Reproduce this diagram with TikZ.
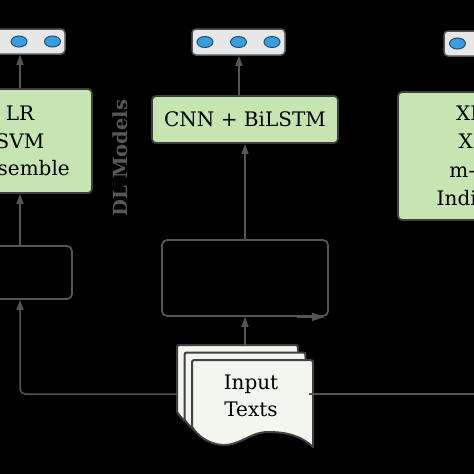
\documentclass[tikz,border=0pt]{standalone}
\usepackage{fontspec}
\setmainfont{DejaVu Serif}
\usetikzlibrary{arrows.meta,shapes.geometric}
\definecolor{greenfill}{HTML}{C6E5B3}
\definecolor{boxborder}{HTML}{3F3F3F}
\definecolor{linegray}{HTML}{555555}
\definecolor{outfill}{HTML}{E7E7E7}
\definecolor{dotblue}{HTML}{3B9DDD}
\definecolor{dotborder}{HTML}{1E4F74}
\definecolor{docfill}{HTML}{F2F6EE}
\definecolor{docborder}{HTML}{404040}
\definecolor{labelgray}{HTML}{575757}
\begin{document}
\begin{tikzpicture}[x=1pt,y=-1pt,
  model/.style={draw=boxborder, line width=1.8pt, fill=greenfill, rounded corners=4pt,
    align=center, inner sep=0pt, font=\fontsize{20}{27.5}\selectfont},
  outbox/.style={draw=linegray, line width=1.5pt, fill=outfill, rounded corners=4pt, inner sep=0pt},
  hiddenbox/.style={draw=linegray, line width=1.8pt, rounded corners=5pt, inner sep=0pt},
  dot/.style={ellipse, draw=dotborder, line width=1pt, fill=dotblue, minimum width=16pt, minimum height=11pt, inner sep=0pt},
  arr/.style={draw=linegray, line width=1.5pt, -{Triangle[length=10pt,width=7pt]}},
  conn/.style={draw=linegray, line width=1.5pt},
  txt/.style={align=center, inner sep=0pt, font=\fontsize{20}{27}\selectfont},
  sheet/.style={draw=docborder, line width=2pt, fill=docfill, line join=round}
]
\useasboundingbox (0,0) rectangle (474,474);
\fill[black] (0,0) rectangle (474,474);
\clip (0,0) rectangle (474,474);

% output boxes
\node[outbox, minimum width=92pt, minimum height=25pt] (ol) at (19,41.5) {};
\node[outbox, minimum width=93pt, minimum height=26pt] (om) at (238.5,42) {};
\node[outbox, minimum width=94pt, minimum height=25pt] (or) at (491,43.5) {};
\foreach \b in {ol,om,or}{
  \node[dot] (\b-1) at ([xshift=-33.5pt]\b.center) {};
  \node[dot] (\b-2) at (\b.center) {};
  \node[dot] (\b-3) at ([xshift=33.5pt]\b.center) {};
}

% model boxes
\node[model, minimum width=144pt, minimum height=104pt] (gl) at (20,141) {LR\\SVM\\Ensemble};
\node[model, minimum width=186pt, minimum height=47pt] (gm) at (245,119.5) {CNN + BiLSTM};
\node[model, minimum width=186pt, minimum height=128pt, font=\fontsize{20}{28.5}\selectfont] (gr) at (491,156) {XLM-R\\XLNet\\m-BERT\\IndicBERT};

% DL label
\node[rotate=90, text=labelgray, font=\fontsize{19.5}{24}\bfseries, inner sep=0pt] (dl) at (120,158) {DL Models};

% hidden boxes
\node[hiddenbox, minimum width=104pt, minimum height=53pt] (hl) at (20,272.5) {};
\node[hiddenbox, minimum width=166pt, minimum height=76pt] (hm) at (245,278) {};
\draw[linegray, line width=1.5pt, -{Triangle[length=13pt,width=8pt]}] ([xshift=-32pt]hm.south east) -- ([xshift=-4pt]hm.south east);

% document stack
\foreach \s in {-15,-7.5,0}{
\begin{scope}[shift={(\s,\s)}]
\path[sheet] (192,427) -- (192,365) .. controls (192,360) .. (197,360) -- (308,360)
  .. controls (313,360) .. (313,365) -- (313,447)
  .. controls (300,435) and (285,432) .. (268,432)
  .. controls (250,432) and (240,446) .. (222,445)
  .. controls (208,444) and (197,435) .. (192,427) -- cycle;
\end{scope}
}
\node[inner sep=0pt, minimum width=136pt, minimum height=102pt] (doc) at (245,396) {};
\node[txt] (doctext) at (251,396) {Input\\Texts};

% connectors
\coordinate (rightend) at (480,394);
\draw[arr] (gl.north) -- (gl.north |- ol.south);
\draw[arr] ([xshift=-6pt]gm.north) -- ([xshift=-6pt]gm.north |- om.south);
\draw[arr] (hl.north) -- (gl.south);
\draw[arr] (hm.north) -- (gm.south);
\draw[arr] (doc.north) -- (hm.south);
\draw[arr, rounded corners=5pt] (doc.west |- rightend) -- (hl.south |- rightend) -- (hl.south);
\draw[conn] ([xshift=-4pt]doc.east |- rightend) -- (rightend);
\end{tikzpicture}
\end{document}
